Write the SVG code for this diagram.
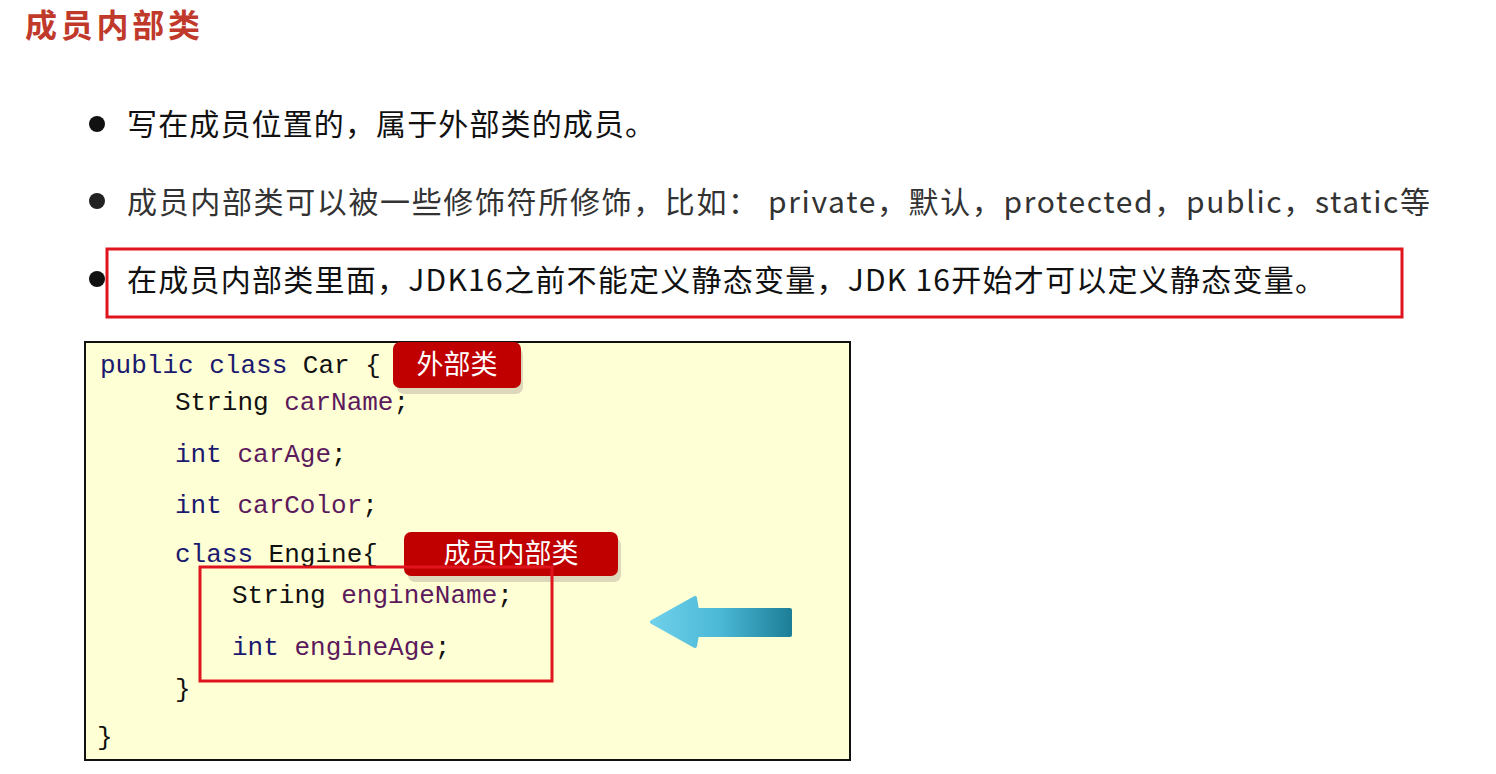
<svg xmlns="http://www.w3.org/2000/svg" width="1496" height="774" viewBox="0 0 1496 774">
<defs>
<style>
.t{font-family:"Noto Sans CJK SC","Noto Sans",sans-serif;font-size:30px;fill:#111}
.c{font-family:"Liberation Mono","DejaVu Sans Mono",monospace;font-size:26px}
.kw{fill:#1a1a6e}.id{fill:#5c1a5c}.pl{fill:#111}
.tag{font-family:"Noto Sans CJK SC",sans-serif;font-size:27px;fill:#fff}
</style>
<linearGradient id="ag" x1="0" x2="1" y1="0" y2="0">
<stop offset="0" stop-color="#6fd0ea"/><stop offset="0.5" stop-color="#4ab8d6"/><stop offset="1" stop-color="#1e7f98"/>
</linearGradient>
</defs>
<rect width="1496" height="774" fill="#fff"/>
<text x="25" y="37" textLength="175" lengthAdjust="spacing" style="font-family:'Noto Sans CJK SC',sans-serif;font-size:32px;font-weight:bold;fill:#c0392b">成员内部类</text>
<g id="b1"><circle cx="97" cy="124" r="8" fill="#111"/><text class="t" x="127" y="135" textLength="528" lengthAdjust="spacing">写在成员位置的，属于外部类的成员。</text></g>
<g id="b2"><circle cx="97" cy="201" r="8" fill="#222"/><text class="t" x="127" y="213" textLength="1303" lengthAdjust="spacing" style="fill:#333">成员内部类可以被一些修饰符所修饰，比如： private，默认，protected，public，static等</text></g>
<g id="b3"><circle cx="97" cy="279" r="8" fill="#111"/><text class="t" x="127" y="291" textLength="1198" lengthAdjust="spacing">在成员内部类里面，JDK16之前不能定义静态变量，JDK 16开始才可以定义静态变量。</text>
<rect x="107" y="249" width="1295" height="68" fill="none" stroke="#e0141e" stroke-width="3"/></g>
<g id="code">
<rect x="85" y="342" width="765" height="418" fill="#ffffd6" stroke="#111" stroke-width="2"/>
<text class="c" x="100" y="373"><tspan class="kw">public class</tspan><tspan class="pl"> Car {</tspan></text>
<text class="c" x="175" y="410"><tspan class="pl">String </tspan><tspan class="id">carName</tspan><tspan class="pl">;</tspan></text>
<text class="c" x="175" y="462"><tspan class="kw">int </tspan><tspan class="id">carAge</tspan><tspan class="pl">;</tspan></text>
<text class="c" x="175" y="513"><tspan class="kw">int </tspan><tspan class="id">carColor</tspan><tspan class="pl">;</tspan></text>
<text class="c" x="175" y="562"><tspan class="kw">class</tspan><tspan class="pl"> Engine{</tspan></text>
<text class="c" x="232" y="603"><tspan class="pl">String </tspan><tspan class="id">engineName</tspan><tspan class="pl">;</tspan></text>
<text class="c" x="232" y="655"><tspan class="kw">int </tspan><tspan class="id">engineAge</tspan><tspan class="pl">;</tspan></text>
<text class="c pl" x="175" y="697">}</text>
<text class="c pl" x="97" y="745">}</text>
</g>
<g id="tag1"><rect x="397" y="348" width="126" height="46" rx="7" fill="#ddd8bb"/><rect x="393" y="342" width="128" height="46" rx="7" fill="#c00000"/><text class="tag" x="457" y="374" text-anchor="middle">外部类</text></g>
<g id="tag2"><rect x="408" y="538" width="213" height="44" rx="7" fill="#ddd8bb"/><rect x="404" y="532" width="214" height="44" rx="7" fill="#c00000"/><text class="tag" x="511" y="563" text-anchor="middle">成员内部类</text></g>
<rect id="hl" x="200" y="567" width="352" height="114" fill="none" stroke="#e0141e" stroke-width="3"/>
<path id="arrow" d="M652,622 L695,598 L697,610 L790,610 L790,635 L697,635 L695,646 Z" fill="url(#ag)" stroke="url(#ag)" stroke-width="4" stroke-linejoin="round"/>
</svg>
